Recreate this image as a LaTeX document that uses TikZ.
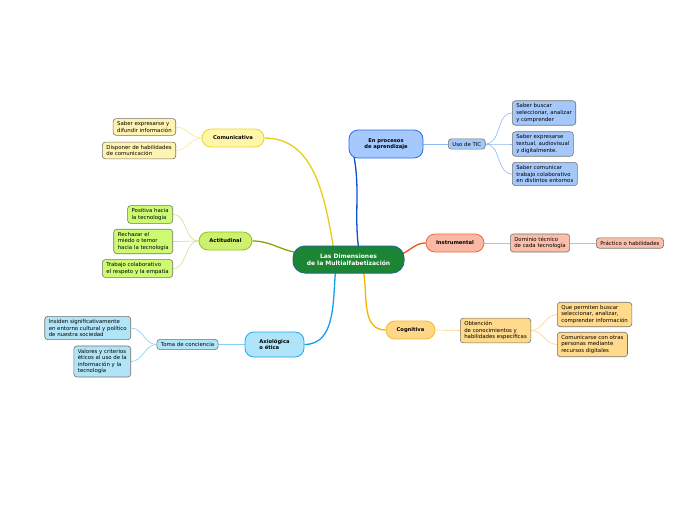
\documentclass[tikz,border=0pt]{standalone}
\usepackage{fontspec}
\setmainfont{DejaVu Sans}
\usetikzlibrary{backgrounds}
\definecolor{rootfill}{RGB}{27,133,51}
\definecolor{rootborder}{RGB}{30,110,130}
\definecolor{leafborder}{RGB}{115,115,105}
% Comunicativa
\definecolor{comline}{RGB}{232,206,20}
\definecolor{comfill}{RGB}{255,246,170}
\definecolor{comborder}{RGB}{236,212,40}
\definecolor{comleaf}{RGB}{255,243,178}
\definecolor{comsub}{RGB}{248,234,140}
% Actitudinal
\definecolor{actline}{RGB}{128,170,0}
\definecolor{actfill}{RGB}{205,240,110}
\definecolor{actborder}{RGB}{140,200,20}
\definecolor{actleaf}{RGB}{205,250,115}
\definecolor{actsub}{RGB}{200,230,140}
% Axiologica
\definecolor{axiline}{RGB}{20,160,230}
\definecolor{axifill}{RGB}{175,228,250}
\definecolor{axiborder}{RGB}{30,170,235}
\definecolor{axileaf}{RGB}{178,228,248}
\definecolor{axisub}{RGB}{130,210,245}
% En procesos
\definecolor{proline}{RGB}{10,80,210}
\definecolor{profill}{RGB}{165,200,255}
\definecolor{proborder}{RGB}{40,110,230}
\definecolor{proleaf}{RGB}{165,200,250}
\definecolor{prosub}{RGB}{140,185,240}
% Instrumental
\definecolor{insline}{RGB}{240,80,30}
\definecolor{insfill}{RGB}{250,185,165}
\definecolor{insborder}{RGB}{240,100,70}
\definecolor{insleaf}{RGB}{250,190,170}
\definecolor{inssub}{RGB}{245,170,150}
% Cognitiva
\definecolor{cogline}{RGB}{250,180,0}
\definecolor{cogfill}{RGB}{255,216,135}
\definecolor{cogborder}{RGB}{245,185,40}
\definecolor{cogleaf}{RGB}{255,218,140}
\definecolor{cogsub}{RGB}{255,210,130}

\tikzset{
  root/.style={draw=rootborder, fill=rootfill, line width=1pt, rounded corners=12pt,
    minimum width=111pt, minimum height=27pt, text=white, align=center,
    font=\bfseries\fontsize{6}{7}\selectfont},
  topic/.style 2 args={draw=#2, fill=#1, line width=0.8pt, rounded corners=9pt,
    minimum height=18pt, align=center, font=\bfseries\fontsize{5.2}{6.4}\selectfont},
  leaf/.style={draw=leafborder, fill=#1, line width=0.6pt, rounded corners=3pt,
    inner xsep=4pt, inner ysep=3pt, align=left, font=\fontsize{5.4}{6.6}\selectfont},
  branch/.style={line width=1.3pt, #1},
  twig/.style={line width=0.6pt, #1}
}

\begin{document}
\begin{tikzpicture}[x=1pt,y=1pt]
      \useasboundingbox (0,0) rectangle (697,-520);
      % centre
      \node[root] (root) at (348.5,-259.5) {Las Dimensiones\\de la Multialfabetización};
      % Comunicativa
      \node[topic={comfill}{comborder}, minimum width=62pt] (com) at (233,-138) {Comunicativa};
      \node[leaf=comleaf, anchor=east] (com1) at (176,-127) {Saber expresarse y\\difundir información};
      \node[leaf=comleaf, anchor=east] (com2) at (176,-150.5) {Disponer de habilidades\\de comunicación};
      % Actitudinal
      \node[topic={actfill}{actborder}, minimum width=53pt] (act) at (225.5,-241) {Actitudinal};
      \node[leaf=actleaf, anchor=east] (act1) at (173,-214.5) {Positiva hacia\\la tecnologia};
      \node[leaf=actleaf, anchor=east] (act2) at (173,-241.5) {Rechazar el\\miedo o temor\\hacia la tecnología};
      \node[leaf=actleaf, anchor=east] (act3) at (173,-268.5) {Trabajo colaborativo\\el respeto y la empatía};
      % Axiologica
      \node[topic={axifill}{axiborder}, minimum width=59pt, minimum height=25pt, align=left] (axi) at (274.5,-344.5) {Axiológica\\o ética};
      \node[leaf=axileaf] (toma) at (187.5,-344.5) {Toma de conciencia};
      \node[leaf=axileaf, anchor=east] (axi1) at (131,-328) {Insiden significativamente\\en entorno cultural y político\\de nuestra sociedad};
      \node[leaf=axileaf, anchor=east] (axi2) at (131,-361.5) {Valores y criterios\\éticos al uso de la\\información y la\\tecnología};
      % En procesos
      \node[topic={profill}{proborder}, minimum width=74pt, minimum height=28pt] (pro) at (386,-144) {En procesos\\de aprendizaje};
      \node[leaf=proleaf, anchor=west] (tic) at (448,-144) {Uso de TIC};
      \node[leaf=proleaf, anchor=west] (pro1) at (512,-113) {Saber buscar\\seleccionar, analizar\\y comprender};
      \node[leaf=proleaf, anchor=west] (pro2) at (512,-144) {Saber expresarse\\textual, audiovisual\\y digitalmente.};
      \node[leaf=proleaf, anchor=west] (pro3) at (512,-174) {Saber comunicar\\trabajo colaborativo\\en distintos entornos};
      % Instrumental
      \node[topic={insfill}{insborder}, minimum width=58pt] (ins) at (455,-243) {Instrumental};
      \node[leaf=insleaf, anchor=west] (dom) at (510,-243) {Dominio técnico\\de cada tecnología};
      \node[leaf=insleaf, anchor=west] (pra) at (596,-243) {Práctico o habilidades};
      % Cognitiva
      \node[topic={cogfill}{cogborder}, minimum width=49pt] (cog) at (410.5,-330) {Cognitiva};
      \node[leaf=cogleaf, anchor=west] (obt) at (460,-330.5) {Obtención\\de conocimientos y\\habilidades específicas};
      \node[leaf=cogleaf, anchor=west] (cog1) at (557,-314.5) {Que permiten buscar\\seleccionar, analizar,\\comprender información};
      \node[leaf=cogleaf, anchor=west] (cog2) at (557,-344.5) {Comunicarse con otras\\personas mediante\\recursos digitales};

      \begin{scope}[on background layer]
        \fill[white] (0,0) rectangle (697,-520);
        % main branches
        \draw[branch=comline] ([xshift=-15pt,yshift=-2pt]root.north) to[out=100,in=0] (com.east);
        \draw[branch=actline] ([xshift=4pt,yshift=7pt]root.west) to[out=170,in=0] (act.east);
        \draw[branch=axiline] ([xshift=-13pt,yshift=2pt]root.south) to[out=-95,in=0] (axi.east);
        \draw[branch=proline] ([xshift=10pt,yshift=-2pt]root.north) to[out=97,in=-80] ([xshift=-32pt,yshift=2pt]pro.south);
        \draw[branch=insline] ([xshift=-4pt,yshift=5pt]root.east) to[out=20,in=180] (ins.west);
        \draw[branch=cogline] ([xshift=15pt,yshift=2pt]root.south) to[out=-80,in=180] (cog.west);
        % sub branches, left side
        \foreach \k in {com1,com2} \draw[twig=comsub] (com.west) to[out=180,in=0] (\k.east);
        \foreach \k in {act1,act2,act3} \draw[twig=actsub] (act.west) to[out=180,in=0] (\k.east);
        \draw[twig=axisub] (axi.west) -- (toma.east);
        \foreach \k in {axi1,axi2} \draw[twig=axisub] (toma.west) to[out=180,in=0] (\k.east);
        % sub branches, right side
        \draw[twig=prosub] (pro.east) -- (tic.west);
        \foreach \k in {pro1,pro2,pro3} \draw[twig=prosub] (tic.east) to[out=0,in=180] (\k.west);
        \draw[twig=inssub] (ins.east) -- (dom.west);
        \draw[twig=inssub] (dom.east) -- (pra.west);
        \draw[twig=cogsub] (cog.east) -- (obt.west);
        \foreach \k in {cog1,cog2} \draw[twig=cogsub] (obt.east) to[out=0,in=180] (\k.west);
      \end{scope}
    \end{tikzpicture}
\end{document}
